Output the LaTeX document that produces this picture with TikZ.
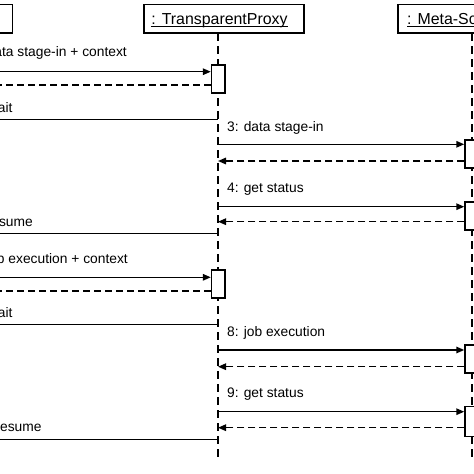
\documentclass[tikz,border=0pt]{standalone}
\usepackage{fontspec}
\setmainfont{Liberation Sans}
\usetikzlibrary{arrows.meta}
\begin{document}
\begin{tikzpicture}[x=1pt,y=-1pt,
  lbl/.style={font=\fontsize{13.8}{16}\selectfont,inner sep=0},
  hdrtext/.style={font=\fontsize{15.9}{18}\selectfont,inner sep=0,anchor=base},
  hdrbox/.style={draw,line width=1.5pt,fill=white,inner sep=0},
  lifeline/.style={line width=1.6pt,dash pattern=on 8pt off 5pt},
  actbox/.style={draw,fill=white,line width=1.5pt,minimum width=13.5pt,minimum height=28pt,inner sep=0},
  call/.style={line width=1.5pt,-{Triangle[length=8pt,width=6.5pt]}},
  reply/.style={line width=1.5pt,dash pattern=on 7pt off 4pt,-{Triangle[length=8pt,width=6.5pt]}},
  plain/.style={line width=1.5pt}]
\useasboundingbox (0,0) rectangle (474,474);
\clip (0,0) rectangle (474,474);
\fill[white] (0,0) rectangle (474,474);

% header boxes
\node[hdrbox,anchor=north east,minimum width=100pt,minimum height=28.5pt] (lbox) at (13,3.5) {};
\node[hdrbox,anchor=north west,minimum width=160pt,minimum height=28.5pt] (tpbox) at (143,3.5) {};
\node[hdrbox,anchor=north west,minimum width=160pt,minimum height=28.5pt] (mbox) at (397,3.5) {};
\node[hdrtext] (tptext) at (219.5,24) {: TransparentProxy};
\draw[line width=1pt] ([yshift=-2.7pt]tptext.base west) -- ([yshift=-2.7pt]tptext.base east);
\node[hdrtext,anchor=base west] (mtext) at (407,24) {: Meta-Scheduler};
\draw[line width=1pt] ([yshift=-2.7pt]mtext.base west) -- ([yshift=-2.7pt]mtext.base east);

% lifelines
\coordinate (tptop) at (218,33);
\coordinate (tpbot) at (218,461);
\coordinate (mtop) at (472,33);
\coordinate (mbot) at (472,461);
\draw[lifeline] (tptop) -- (tpbot);
\draw[lifeline] (mtop) -- (mbot);

% activation boxes
\node[actbox] (tpa1) at (218.3,79) {};
\node[actbox] (tpa2) at (218.3,284) {};
\node[actbox,minimum width=14pt] (ma1) at (472,154) {};
\node[actbox,minimum width=14pt] (ma2) at (472,216) {};
\node[actbox,minimum width=14pt] (ma3) at (472,359) {};
\node[actbox,minimum width=14pt,minimum height=30pt] (ma4) at (472,421.7) {};

% 1: data stage-in + context
\node[lbl,anchor=base east] (t1) at (127,56.7) {data stage-in + context};
\coordinate (c1) at (-20,71.7);
\draw[call] (c1) -- (c1 -| tpa1.west);
\coordinate (r1) at (-20,85);
\draw[reply] (r1 -| tpa1.west) -- (r1);

% wait
\node[lbl,anchor=base east] (t2) at (12.7,112.3) {wait};
\coordinate (w1) at (-20,119.3);
\draw[plain] (w1) -- (w1 -| tptop);

% 3: data stage-in
\node[lbl,anchor=base west] (t3) at (227,131) {3: data stage-in};
\coordinate (c3) at (0,144.3);
\draw[call] (c3 -| tptop) -- (c3 -| ma1.west);
\coordinate (r3) at (0,161);
\draw[reply] (r3 -| ma1.west) -- (r3 -| tptop);

% 4: get status
\node[lbl,anchor=base west] (t4) at (227,192.7) {4: get status};
\coordinate (c4) at (0,206.7);
\draw[call] (c4 -| tptop) -- (c4 -| ma2.west);
\coordinate (r4) at (0,221.7);
\draw[reply] (r4 -| ma2.west) -- (r4 -| tptop);

% resume
\node[lbl,anchor=base east] (t5) at (33,226) {resume};
\coordinate (s1) at (-20,233.3);
\draw[plain] (s1) -- (s1 -| tptop);

% job execution + context
\node[lbl,anchor=base east] (t6) at (128,263.3) {job execution + context};
\coordinate (c6) at (-20,277.3);
\draw[call] (c6) -- (c6 -| tpa2.west);
\coordinate (r6) at (-20,291);
\draw[reply] (r6 -| tpa2.west) -- (r6);

% wait
\node[lbl,anchor=base east] (t7) at (12.7,317.3) {wait};
\coordinate (w2) at (-20,324.3);
\draw[plain] (w2) -- (w2 -| tptop);

% 8: job execution
\node[lbl,anchor=base west] (t8) at (227,336) {8: job execution};
\coordinate (c8) at (0,350);
\draw[call] (c8 -| tptop) -- (c8 -| ma3.west);
\coordinate (r8) at (0,366.7);
\draw[reply] (r8 -| ma3.west) -- (r8 -| tptop);

% 9: get status
\node[lbl,anchor=base west] (t9) at (227,397.7) {9: get status};
\coordinate (c9) at (0,411.7);
\draw[call] (c9 -| tptop) -- (c9 -| ma4.west);
\coordinate (r9) at (0,427.7);
\draw[reply] (r9 -| ma4.west) -- (r9 -| tptop);

% resume
\node[lbl,anchor=base east] (t10) at (41.7,431.7) {resume};
\coordinate (s2) at (-20,439.3);
\draw[plain] (s2) -- (s2 -| tptop);
\end{tikzpicture}
\end{document}
